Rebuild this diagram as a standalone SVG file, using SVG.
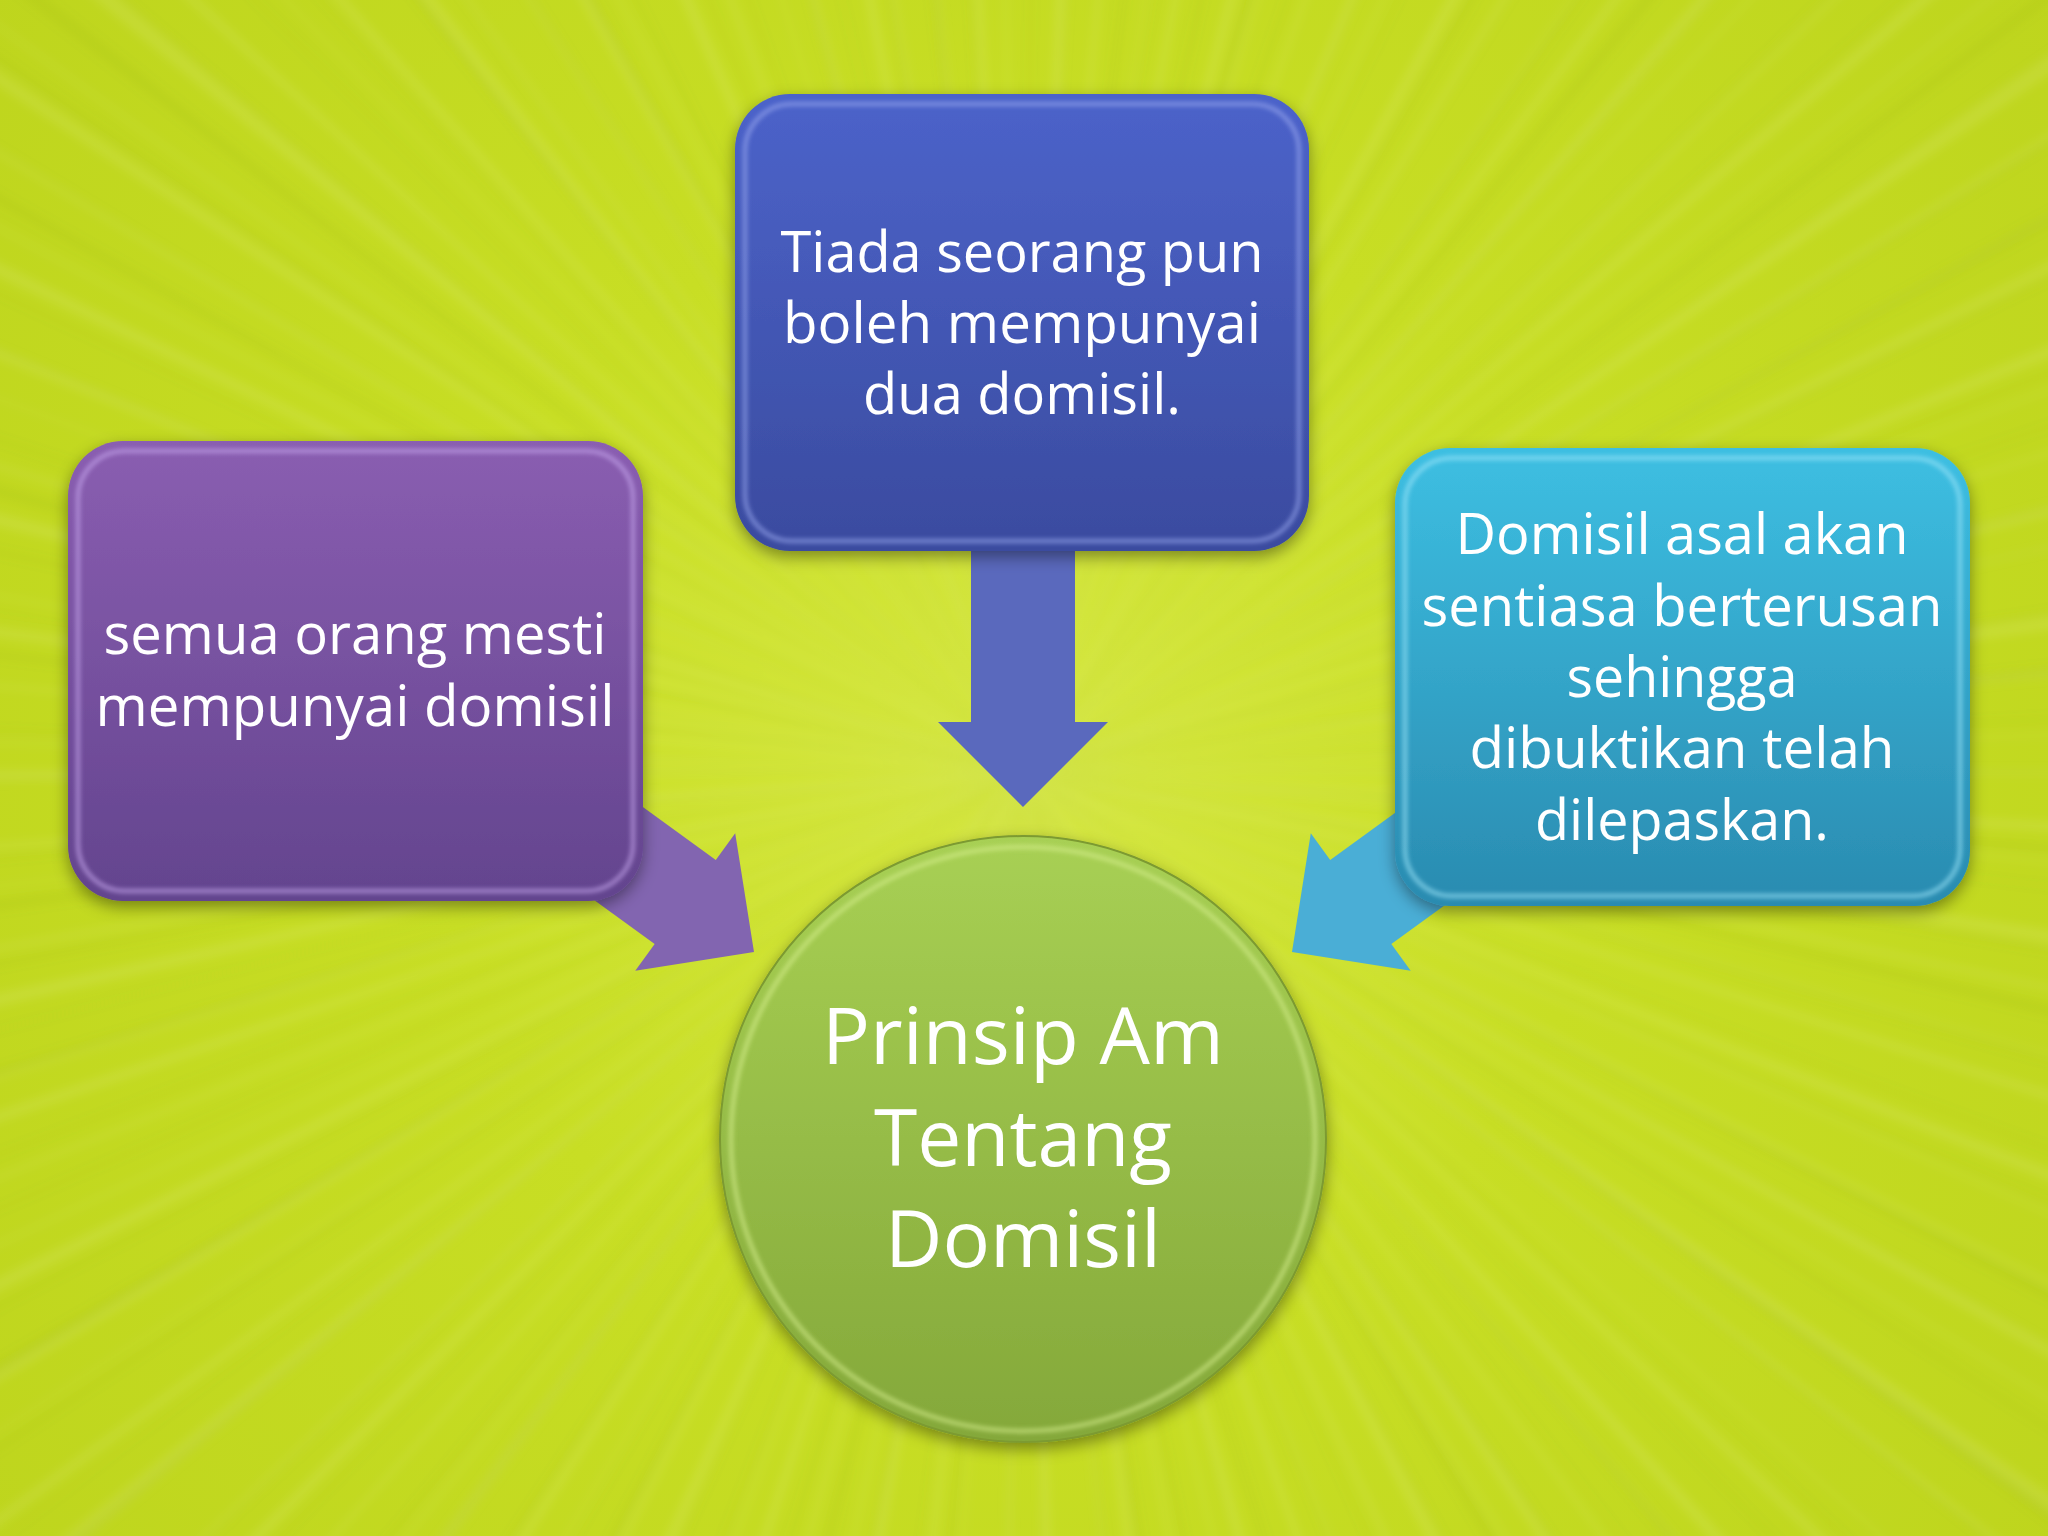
<svg xmlns="http://www.w3.org/2000/svg" width="2048" height="1536" viewBox="0 0 2048 1536">
<defs>
<radialGradient id="bg" cx="1023" cy="770" r="1300" gradientUnits="userSpaceOnUse">
<stop offset="0" stop-color="#d6e83c"/>
<stop offset="0.45" stop-color="#c8de24"/>
<stop offset="1" stop-color="#bed51d"/>
</radialGradient>
<linearGradient id="gBlue" x1="0" y1="0" x2="0" y2="1">
<stop offset="0" stop-color="#4c63ca"/>
<stop offset="1" stop-color="#3a4b9f"/>
</linearGradient>
<linearGradient id="gPurple" x1="0" y1="0" x2="0" y2="1">
<stop offset="0" stop-color="#8a5eb1"/>
<stop offset="1" stop-color="#63448e"/>
</linearGradient>
<linearGradient id="gCyan" x1="0" y1="0" x2="0" y2="1">
<stop offset="0" stop-color="#3dbfe2"/>
<stop offset="1" stop-color="#2a8bb0"/>
</linearGradient>
<linearGradient id="gGreen" x1="0" y1="0" x2="0" y2="1">
<stop offset="0" stop-color="#a8d054"/>
<stop offset="1" stop-color="#84a83a"/>
</linearGradient>
<filter id="shadow" x="-20%" y="-20%" width="140%" height="140%">
<feDropShadow dx="0" dy="6" stdDeviation="8" flood-color="#000" flood-opacity="0.4"/>
</filter>
<filter id="soft" x="-10%" y="-10%" width="120%" height="120%">
<feGaussianBlur stdDeviation="2"/>
</filter>
<filter id="rayblur" x="0" y="0" width="2048" height="1536" filterUnits="userSpaceOnUse">
<feGaussianBlur stdDeviation="5"/>
</filter>
<polygon id="arrow" points="0,0 -85,-85 -85,-52 -300,-52 -300,52 -85,52 -85,85"/>
</defs>
<style>
.lbl{font-family:"Open Sans","Noto Sans","DejaVu Sans",sans-serif;fill:#ffffff;text-anchor:middle}
.box{font-size:56px}
.big{font-size:78px}
.rim{fill:none;stroke-width:5;opacity:0.55}
</style>

<rect x="0" y="0" width="2048" height="1536" fill="url(#bg)"/>
<g filter="url(#rayblur)">
<circle cx="1023" cy="770" r="700" fill="none" stroke="#ffffff" stroke-opacity="0.09" stroke-width="1400" stroke-dasharray="4 31 7 19 3 44 9 27 5 38 2 23 6 41 8 17 3 35"/>
<circle cx="1023" cy="770" r="700" fill="none" stroke="#7f9a10" stroke-opacity="0.08" stroke-width="1400" stroke-dasharray="3 47 6 22 2 39 5 33 8 26 4 51 3 29"/>
</g>

<g id="connectors">
<use href="#arrow" fill="#5a69bd" transform="translate(1023,807) rotate(90)"/>
<use href="#arrow" fill="#8265b0" transform="translate(754,952) rotate(36)"/>
<use href="#arrow" fill="#4aaed6" transform="translate(1292,952) rotate(144)"/>
</g>

<g id="node-top">
<rect x="735" y="94" width="574" height="457" rx="55" fill="url(#gBlue)" filter="url(#shadow)"/>
<rect x="745" y="104" width="554" height="437" rx="47" class="rim" stroke="#9aa8ee" filter="url(#soft)"/>
<text class="lbl box" x="1022" y="272" textLength="483" lengthAdjust="spacingAndGlyphs">Tiada seorang pun</text>
<text class="lbl box" x="1022" y="343" textLength="478" lengthAdjust="spacingAndGlyphs">boleh mempunyai</text>
<text class="lbl box" x="1022" y="414" textLength="318" lengthAdjust="spacingAndGlyphs">dua domisil.</text>
</g>

<g id="node-left">
<rect x="68" y="441" width="575" height="460" rx="55" fill="url(#gPurple)" filter="url(#shadow)"/>
<rect x="78" y="451" width="555" height="440" rx="47" class="rim" stroke="#c7a8ee" filter="url(#soft)"/>
<text class="lbl box" x="355" y="654" textLength="503" lengthAdjust="spacingAndGlyphs">semua orang mesti</text>
<text class="lbl box" x="355" y="726" textLength="519" lengthAdjust="spacingAndGlyphs">mempunyai domisil</text>
</g>

<g id="node-right">
<rect x="1395" y="448" width="575" height="458" rx="55" fill="url(#gCyan)" filter="url(#shadow)"/>
<rect x="1405" y="458" width="555" height="438" rx="47" class="rim" stroke="#9fe6fa" filter="url(#soft)"/>
<text class="lbl box" x="1682" y="554" textLength="453" lengthAdjust="spacingAndGlyphs">Domisil asal akan</text>
<text class="lbl box" x="1682" y="626" textLength="521" lengthAdjust="spacingAndGlyphs">sentiasa berterusan</text>
<text class="lbl box" x="1682" y="697" textLength="231" lengthAdjust="spacingAndGlyphs">sehingga</text>
<text class="lbl box" x="1682" y="768" textLength="425" lengthAdjust="spacingAndGlyphs">dibuktikan telah</text>
<text class="lbl box" x="1682" y="840" textLength="294" lengthAdjust="spacingAndGlyphs">dilepaskan.</text>
</g>

<g id="node-center">
<circle cx="1023" cy="1139" r="303" fill="url(#gGreen)" stroke="#7c9a30" stroke-width="2" filter="url(#shadow)"/>
<circle cx="1023" cy="1139" r="292" class="rim" stroke="#d8f090" filter="url(#soft)"/>
<text class="lbl big" x="1023" y="1064" textLength="402" lengthAdjust="spacingAndGlyphs">Prinsip Am</text>
<text class="lbl big" x="1023" y="1166" textLength="298" lengthAdjust="spacingAndGlyphs">Tentang</text>
<text class="lbl big" x="1023" y="1267" textLength="276" lengthAdjust="spacingAndGlyphs">Domisil</text>
</g>
</svg>
